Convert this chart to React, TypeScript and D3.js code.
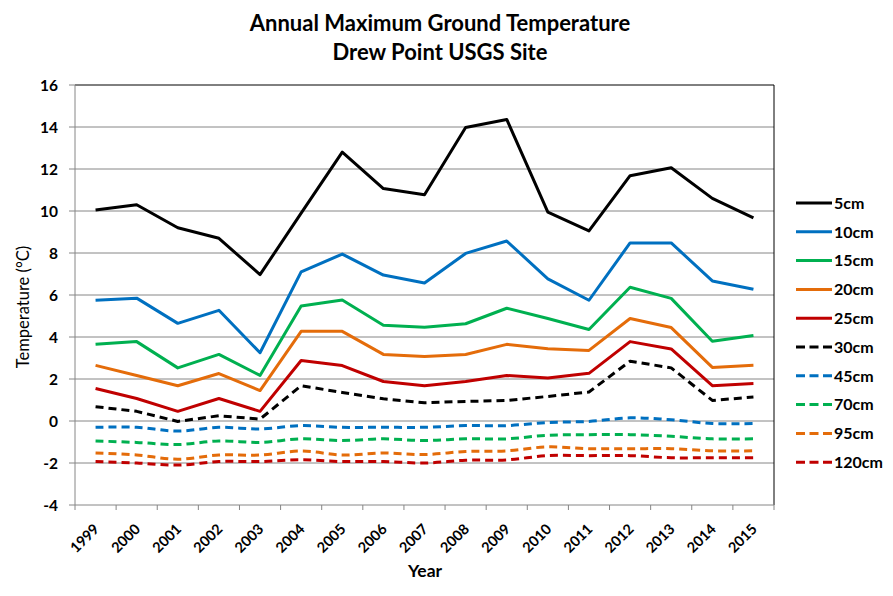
import React from 'react';
import * as d3 from 'd3';

const years = ['1999', '2000', '2001', '2002', '2003', '2004', '2005', '2006', '2007', '2008', '2009', '2010', '2011', '2012', '2013', '2014', '2015'];

const d5 = [10.05, 10.3, 9.2, 8.7, 6.97, 9.9, 12.8, 11.07, 10.77, 13.98, 14.36, 9.95, 9.05, 11.68, 12.06, 10.6, 9.67];
const d10 = [5.75, 5.85, 4.65, 5.27, 3.25, 7.1, 7.95, 6.95, 6.57, 7.98, 8.57, 6.77, 5.75, 8.48, 8.48, 6.67, 6.27];
const d15 = [3.65, 3.78, 2.53, 3.17, 2.17, 5.48, 5.76, 4.56, 4.46, 4.63, 5.37, 4.88, 4.36, 6.37, 5.84, 3.8, 4.07];
const d20 = [2.65, 2.17, 1.68, 2.26, 1.45, 4.27, 4.27, 3.17, 3.07, 3.17, 3.65, 3.44, 3.36, 4.88, 4.45, 2.55, 2.65];
const d25 = [1.55, 1.07, 0.46, 1.07, 0.46, 2.88, 2.64, 1.88, 1.68, 1.88, 2.17, 2.05, 2.27, 3.78, 3.43, 1.68, 1.78];
const d30 = [0.68, 0.46, -0.02, 0.25, 0.09, 1.68, 1.36, 1.06, 0.87, 0.93, 0.98, 1.17, 1.38, 2.85, 2.53, 0.98, 1.14];
const d45 = [-0.3, -0.3, -0.48, -0.3, -0.38, -0.22, -0.3, -0.3, -0.3, -0.22, -0.22, -0.07, -0.02, 0.15, 0.06, -0.12, -0.12];
const d70 = [-0.95, -1.02, -1.12, -0.95, -1.02, -0.85, -0.93, -0.85, -0.93, -0.85, -0.85, -0.68, -0.65, -0.65, -0.73, -0.85, -0.85];
const d95 = [-1.52, -1.62, -1.82, -1.62, -1.62, -1.43, -1.62, -1.52, -1.6, -1.45, -1.42, -1.23, -1.32, -1.32, -1.32, -1.42, -1.42];
const d120 = [-1.93, -2.0, -2.1, -1.93, -1.93, -1.85, -1.93, -1.93, -2.0, -1.87, -1.85, -1.65, -1.65, -1.65, -1.75, -1.75, -1.75];

const seriesNames = ['5cm', '10cm', '15cm', '20cm', '25cm', '30cm', '45cm', '70cm', '95cm', '120cm'];
const seriesValues = [d5, d10, d15, d20, d25, d30, d45, d70, d95, d120];
const seriesColors = ['#000000', '#0070C0', '#00B050', '#E46C0A', '#C00000', '#000000', '#0070C0', '#00B050', '#E46C0A', '#C00000'];
const dashed = [false, false, false, false, false, true, true, true, true, true];
const smooth = [false, false, false, false, false, false, true, true, true, true];

const yTicks = [-4, -2, 0, 2, 4, 6, 8, 10, 12, 14, 16];

const W = 893;
const H = 596;
const left = 75;
const right = 774;
const top = 85;
const bottom = 505;
const font = 'Lato, "Open Sans", sans-serif';

export default function App() {
    const x = d3.scaleBand<string>().domain(years).range([left, right]);
    const y = d3.scaleLinear().domain([-4, 16]).range([bottom, top]);
    const cx = (yr: string) => (x(yr) as number) + x.bandwidth() / 2;

    const straight = d3.line<number>().x((_, i) => cx(years[i])).y(d => y(d));
    const curved = d3.line<number>().x((_, i) => cx(years[i])).y(d => y(d)).curve(d3.curveCatmullRom.alpha(0.5));

    const boundaries = years.map(yr => x(yr) as number).concat([right]);

    return (
        <svg width={W} height={H} style={{ position: 'absolute', left: 0, top: 0, background: '#fff' }} fontFamily={font}>
            <rect x={0} y={0} width={W} height={H} fill="#fff" />
            <text x={440} y={31} textAnchor="middle" fontSize={22} fontWeight="bold">Annual Maximum Ground Temperature</text>
            <text x={440} y={59.5} textAnchor="middle" fontSize={22} fontWeight="bold">Drew Point USGS Site</text>

            {/* gridlines */}
            {yTicks.filter(t => t > -4 && t < 16).map(t => (
                <line key={'g' + t} x1={left} x2={right} y1={y(t)} y2={y(t)} stroke="#868686" strokeWidth={1} />
            ))}
            <line x1={left} x2={right} y1={top} y2={top} stroke="#000" strokeWidth={1} />
            <line x1={right} x2={right} y1={top} y2={bottom} stroke="#000" strokeWidth={1} />

            {/* y axis */}
            <line x1={left} x2={left} y1={top} y2={bottom} stroke="#868686" strokeWidth={1} />
            {yTicks.map(t => (
                <g key={'y' + t}>
                    <line x1={left - 6} x2={left} y1={y(t)} y2={y(t)} stroke="#868686" />
                    <text x={58} y={y(t)} dy="0.36em" textAnchor="end" fontSize={15.5} fontWeight="bold">{t}</text>
                </g>
            ))}
            <text transform={`translate(29,307) rotate(-90)`} textAnchor="middle" fontSize={16.5}>Temperature (°C)</text>

            {/* x axis */}
            <line x1={left} x2={right} y1={bottom} y2={bottom} stroke="#868686" strokeWidth={1} />
            {boundaries.map((b, i) => (
                <line key={'xt' + i} x1={b} x2={b} y1={bottom} y2={bottom + 5} stroke="#868686" />
            ))}
            {years.map(yr => (
                <text key={'xl' + yr} transform={`translate(${cx(yr) + 4.5},${bottom + 25}) rotate(-45)`} textAnchor="end" fontSize={14.5} fontWeight="bold">{yr}</text>
            ))}
            <text x={425} y={577} textAnchor="middle" fontSize={17.5} fontWeight="bold">Year</text>

            {/* series */}
            {seriesValues.map((vals, i) => (
                <path key={seriesNames[i]} d={(smooth[i] ? curved : straight)(vals) || ''} fill="none"
                    stroke={seriesColors[i]} strokeWidth={3} strokeDasharray={dashed[i] ? '8,5' : undefined} strokeLinejoin="round" />
            ))}

            {/* legend */}
            {seriesNames.map((name, i) => {
                const ly = 203 + i * 28.8;
                return (
                    <g key={'lg' + name}>
                        <line x1={796} x2={832} y1={ly} y2={ly} stroke={seriesColors[i]} strokeWidth={3} strokeDasharray={dashed[i] ? '9,4.5' : undefined} />
                        <text x={834} y={ly} dy="0.36em" fontSize={16} fontWeight="bold">{name}</text>
                    </g>
                );
            })}
        </svg>
    );
}
